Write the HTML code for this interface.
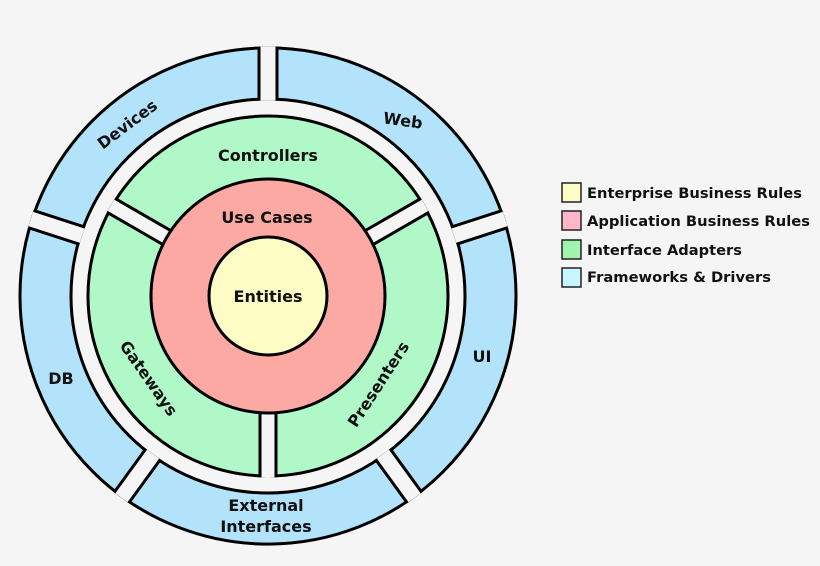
<!DOCTYPE html>
<html><head><meta charset="utf-8"><style>
html,body{margin:0;padding:0;background:#f5f5f5;}
svg{display:block;}
text{font-family:"DejaVu Sans","Liberation Sans",sans-serif;font-weight:bold;fill:#111;}
</style></head><body>
<svg width="820" height="566" viewBox="0 0 820 566" xmlns="http://www.w3.org/2000/svg">
<defs>
<clipPath id="cb"><path clip-rule="evenodd" d="M18.5,296 a249.5,249.5 0 1,0 499,0 a249.5,249.5 0 1,0 -499,0 Z M72.5,296 a195.5,195.5 0 1,0 391,0 a195.5,195.5 0 1,0 -391,0 Z"/></clipPath>
<clipPath id="cg"><circle cx="268" cy="296" r="181.5"/></clipPath>
</defs>
<rect width="820" height="566" fill="#f5f5f5"/>
<path fill-rule="evenodd" fill="#b3e3fb" stroke="#000" stroke-width="3" d="M20,296 a248,248 0 1,0 496,0 a248,248 0 1,0 -496,0 Z M71,296 a197,197 0 1,0 394,0 a197,197 0 1,0 -394,0 Z"/>
<g clip-path="url(#cb)">
<g stroke="#000" stroke-width="21">
<line x1="268" y1="296" x2="268" y2="36"/>
<line x1="268" y1="296" x2="515.3" y2="215.7"/>
<line x1="268" y1="296" x2="20.7" y2="215.7"/>
<line x1="268" y1="296" x2="115.2" y2="506.3"/>
<line x1="268" y1="296" x2="420.8" y2="506.3"/>
</g>
<g stroke="#f5f5f5" stroke-width="15">
<line x1="268" y1="296" x2="268" y2="36"/>
<line x1="268" y1="296" x2="515.3" y2="215.7"/>
<line x1="268" y1="296" x2="20.7" y2="215.7"/>
<line x1="268" y1="296" x2="115.2" y2="506.3"/>
<line x1="268" y1="296" x2="420.8" y2="506.3"/>
</g>
</g>
<circle cx="268" cy="296" r="180" fill="#b0f8c8" stroke="#000" stroke-width="3"/>
<g clip-path="url(#cg)">
<g stroke="#000" stroke-width="19">
<line x1="268" y1="296" x2="94.8" y2="196"/>
<line x1="268" y1="296" x2="441.2" y2="196"/>
<line x1="268" y1="296" x2="268" y2="496"/>
</g>
<g stroke="#f5f5f5" stroke-width="13">
<line x1="268" y1="296" x2="94.8" y2="196"/>
<line x1="268" y1="296" x2="441.2" y2="196"/>
<line x1="268" y1="296" x2="268" y2="496"/>
</g>
</g>
<circle cx="268" cy="296" r="117" fill="#fca9a4" stroke="#000" stroke-width="3"/>
<circle cx="268" cy="296" r="59" fill="#fdfcc4" stroke="#000" stroke-width="3"/>
<g font-size="16" text-anchor="middle">
<text x="268" y="302">Entities</text>
<text x="267" y="223">Use Cases</text>
<text x="268" y="161">Controllers</text>
<text transform="translate(149,378) rotate(55)" y="6">Gateways</text>
<text transform="translate(378,384) rotate(-57)" y="6">Presenters</text>
<text transform="translate(127,124) rotate(-37)" y="6">Devices</text>
<text transform="translate(403,120) rotate(8)" y="6">Web</text>
<text x="61" y="384">DB</text>
<text x="482" y="362">UI</text>
<text x="266" y="511">External</text>
<text x="266" y="532">Interfaces</text>
</g>
<g stroke="#222" stroke-width="1.5">
<rect x="562" y="183" width="19" height="19" fill="#fdfcc4"/>
<rect x="562" y="211" width="19" height="19" fill="#ffb6c8"/>
<rect x="562" y="240" width="19" height="19" fill="#a0f4b0"/>
<rect x="562" y="268" width="19" height="19" fill="#c8f6fe"/>
</g>
<g font-size="14">
<text x="587" y="198" textLength="215" lengthAdjust="spacingAndGlyphs">Enterprise Business Rules</text>
<text x="587" y="226" textLength="223" lengthAdjust="spacingAndGlyphs">Application Business Rules</text>
<text x="587" y="255" textLength="155" lengthAdjust="spacingAndGlyphs">Interface Adapters</text>
<text x="587" y="282" textLength="184" lengthAdjust="spacingAndGlyphs">Frameworks &amp; Drivers</text>
</g>
</svg>
</body></html>
